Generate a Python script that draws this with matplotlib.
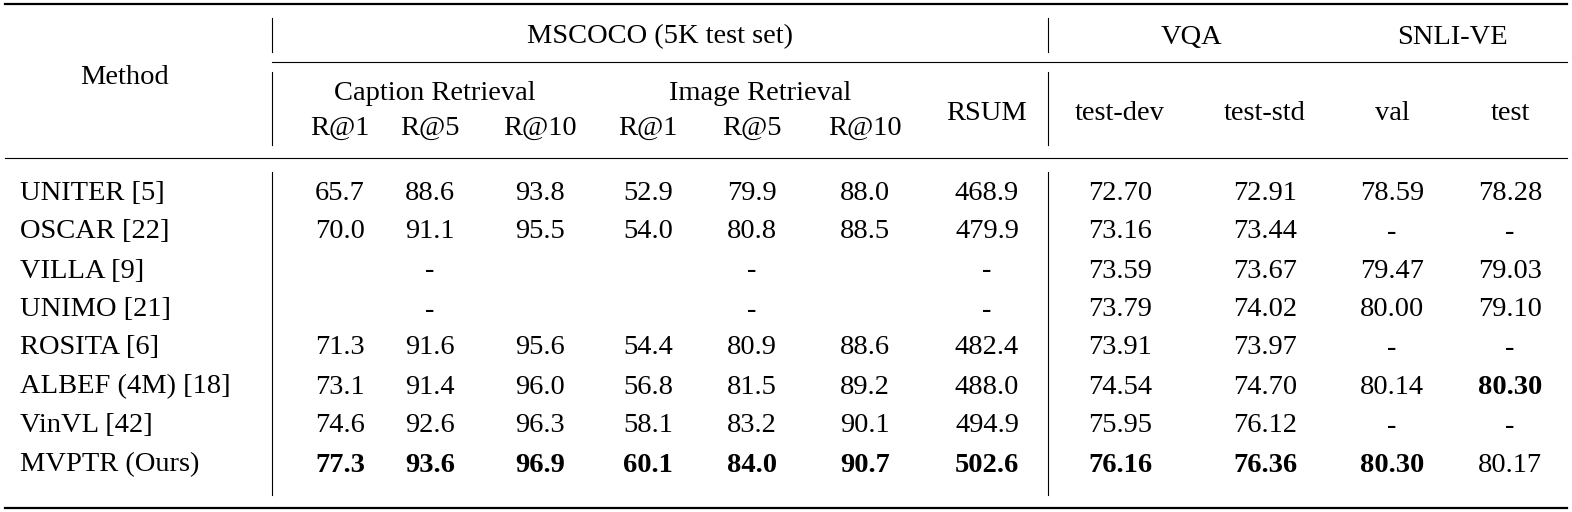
import matplotlib
matplotlib.use("Agg")
import matplotlib.pyplot as plt

methods = ["UNITER [5]", "OSCAR [22]", "VILLA [9]", "UNIMO [21]", "ROSITA [6]",
           "ALBEF (4M) [18]", "VinVL [42]", "MVPTR (Ours)"]
coco = [
    ["65.7", "88.6", "93.8", "52.9", "79.9", "88.0", "468.9"],
    ["70.0", "91.1", "95.5", "54.0", "80.8", "88.5", "479.9"],
    ["", "-", "", "", "-", "", "-"],
    ["", "-", "", "", "-", "", "-"],
    ["71.3", "91.6", "95.6", "54.4", "80.9", "88.6", "482.4"],
    ["73.1", "91.4", "96.0", "56.8", "81.5", "89.2", "488.0"],
    ["74.6", "92.6", "96.3", "58.1", "83.2", "90.1", "494.9"],
    ["77.3", "93.6", "96.9", "60.1", "84.0", "90.7", "502.6"],
]
vqa_snli = [
    ["72.70", "72.91", "78.59", "78.28"],
    ["73.16", "73.44", "-", "-"],
    ["73.59", "73.67", "79.47", "79.03"],
    ["73.79", "74.02", "80.00", "79.10"],
    ["73.91", "73.97", "-", "-"],
    ["74.54", "74.70", "80.14", "80.30"],
    ["75.95", "76.12", "-", "-"],
    ["76.16", "76.36", "80.30", "80.17"],
]
bold = {(5, 10)} | {(7, j) for j in range(10)}
sub_headers = ["R@1", "R@5", "R@10", "R@1", "R@5", "R@10"]

W, H = 1572, 512
fig = plt.figure(figsize=(W/100, H/100), dpi=100)
ax = fig.add_axes([0, 0, 1, 1])
ax.set_xlim(0, W); ax.set_ylim(H, 0); ax.axis("off")
FS = 20.5
kw = dict(family=["Liberation Serif", "DejaVu Serif"], fontsize=FS, va="center")

colx = [340, 430, 540, 648, 752, 865, 987, 1120, 1265, 1392, 1510]
rowy = [193, 232, 271, 310, 348, 387, 426, 465]

# rules
ax.plot([5, 1567], [4, 4], color="black", lw=1.6)
ax.plot([272, 1567], [62, 62], color="black", lw=0.8)
ax.plot([5, 1567], [158, 158], color="black", lw=0.8)
ax.plot([5, 1567], [508, 508], color="black", lw=1.6)
for x in (272, 1048):
    ax.plot([x, x], [18, 52], color="black", lw=0.8)
    ax.plot([x, x], [72, 145], color="black", lw=0.8)
    ax.plot([x, x], [172, 495], color="black", lw=0.8)

ax.text(125, 78, "Method", ha="center", **kw)
ax.text(660, 37, "MSCOCO (5K test set)", ha="center", **kw)
ax.text(1192, 37, "VQA", ha="center", **kw)
ax.text(1452, 37, "SNLI-VE", ha="center", **kw)
ax.text(435, 94, "Caption Retrieval", ha="center", **kw)
ax.text(760, 94, "Image Retrieval", ha="center", **kw)
for x, s in zip(colx[:6], sub_headers):
    ax.text(x, 128, s, ha="center", **kw)
ax.text(colx[6], 114, "RSUM", ha="center", **kw)
for x, s in zip(colx[7:], ["test-dev", "test-std", "val", "test"]):
    ax.text(x, 114, s, ha="center", **kw)

for i, (m, y) in enumerate(zip(methods, rowy)):
    ax.text(20, y, m, ha="left", **kw)
    vals = coco[i] + vqa_snli[i]
    for j, (x, v) in enumerate(zip(colx, vals)):
        ax.text(x, y, v, ha="center",
                fontweight="bold" if (i, j) in bold else "normal", **kw)

fig.savefig("out.png", dpi=100)
